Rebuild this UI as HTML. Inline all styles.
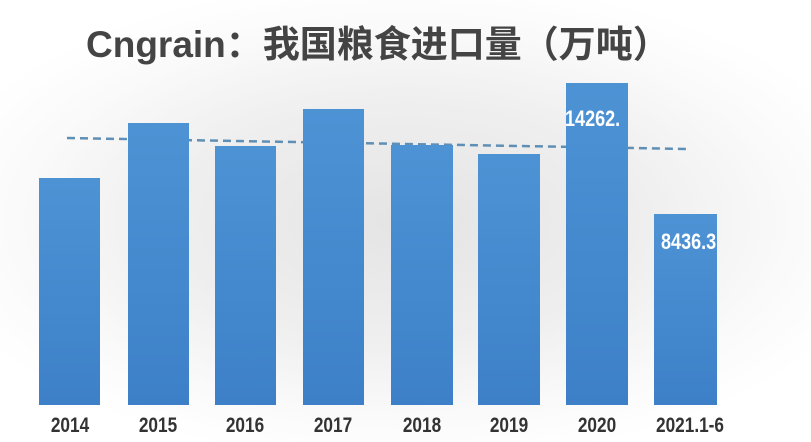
<!DOCTYPE html>
<html><head><meta charset="utf-8"><style>
body{margin:0;width:811px;height:442px;overflow:hidden;background:#fff;font-family:"Liberation Sans","Noto Sans CJK SC",sans-serif}
#bg{position:absolute;left:0;top:0;width:811px;height:442px;background:radial-gradient(ellipse 60% 55% at 50% 50%,#e4e4e4 0%,#efefef 50%,#fafafa 80%,#fff 100%)}
.bar{position:absolute;background:linear-gradient(#4d93d4,#3d80c8);bottom:37px}
.lab{position:absolute;top:414px;font:bold 21px "Liberation Sans",sans-serif;color:#333;width:90px;text-align:center;transform:scaleX(0.82)}
.val{position:absolute;color:#fff;font:bold 22px "Liberation Sans",sans-serif;transform:scaleX(0.82);transform-origin:left}
h1{position:absolute;left:86px;top:14px;margin:0;font:bold 37px "Liberation Sans","Noto Sans CJK SC",sans-serif;color:#444;white-space:nowrap}
</style></head><body>
<div id="bg"></div>
<h1>Cngrain：我国粮食进口量（万吨）</h1>
<svg style="position:absolute;left:0;top:0" width="811" height="442"><line x1="67" y1="138" x2="688" y2="149" stroke="#5f8fb5" stroke-width="2.5" stroke-dasharray="8,5"/></svg>
<div class="bar" style="left:39px;width:61px;top:178px"></div>
<div class="bar" style="left:128px;width:61px;top:123px"></div>
<div class="bar" style="left:215px;width:61px;top:146px"></div>
<div class="bar" style="left:303px;width:61px;top:109px"></div>
<div class="bar" style="left:391px;width:62px;top:145px"></div>
<div class="bar" style="left:478px;width:62px;top:154px"></div>
<div class="bar" style="left:566px;width:62px;top:83px"></div>
<div class="bar" style="left:654px;width:63px;top:214px"></div>
<div class="val" style="left:565px;top:106px">14262.</div>
<div class="val" style="left:661px;top:229px">8436.3</div>
<div class="lab" style="left:25px">2014</div>
<div class="lab" style="left:113px">2015</div>
<div class="lab" style="left:200px">2016</div>
<div class="lab" style="left:288px">2017</div>
<div class="lab" style="left:377px">2018</div>
<div class="lab" style="left:464px">2019</div>
<div class="lab" style="left:552px">2020</div>
<div class="lab" style="left:640px;width:100px">2021.1-6</div>
</body></html>
